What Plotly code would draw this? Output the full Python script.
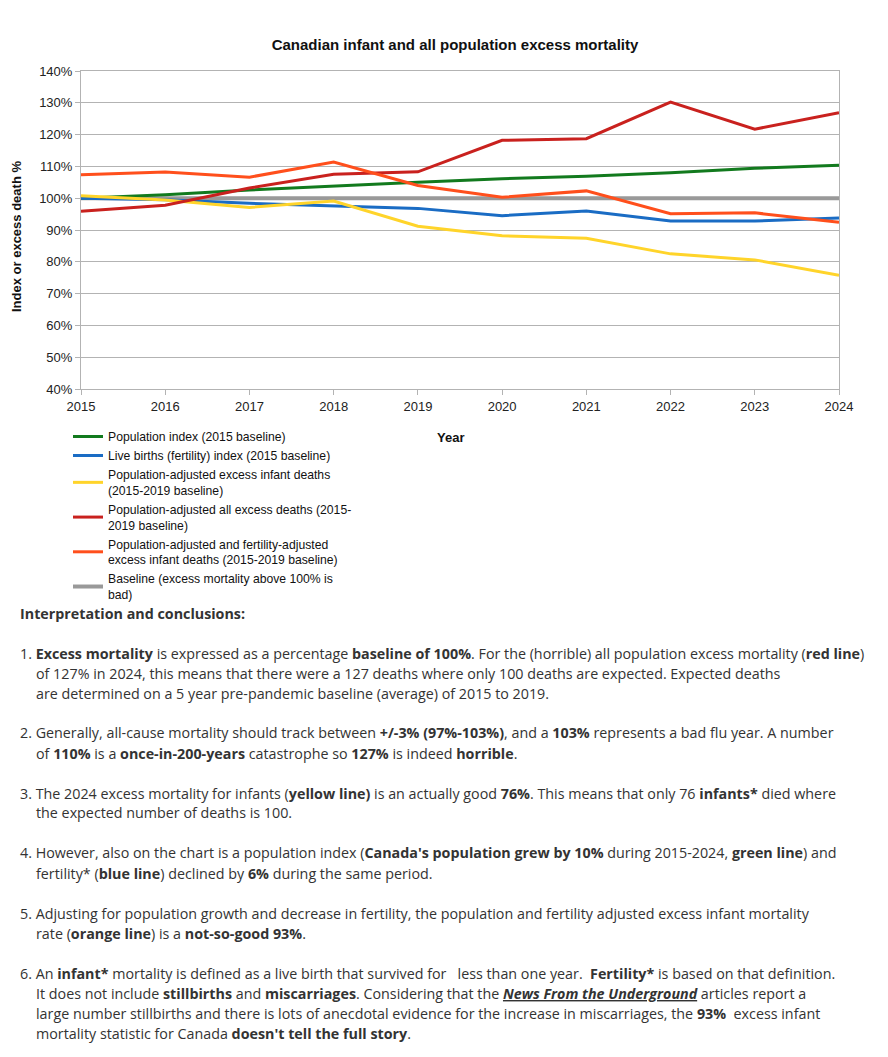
import plotly.graph_objects as go

years = [2015, 2016, 2017, 2018, 2019, 2020, 2021, 2022, 2023, 2024]
population_index = [100.0, 101.1, 102.6, 103.9, 105.0, 106.1, 106.9, 108.0, 109.4, 110.4]
live_births_index = [100.0, 99.5, 98.4, 97.6, 96.8, 94.5, 96.0, 92.8, 92.8, 93.8]
infant_excess = [100.8, 99.4, 97.1, 99.1, 91.2, 88.2, 87.4, 82.5, 80.6, 75.8]
all_excess = [95.9, 97.8, 103.2, 107.5, 108.3, 118.2, 118.7, 130.2, 121.7, 126.9]
infant_fert_excess = [107.4, 108.2, 106.6, 111.4, 104.0, 100.3, 102.3, 95.1, 95.4, 92.4]
baseline = [100, 100, 100, 100, 100, 100, 100, 100, 100, 100]

series_names = [
    "Population index (2015 baseline)",
    "Live births (fertility) index (2015 baseline)",
    "Population-adjusted excess infant deaths<br>(2015-2019 baseline)",
    "Population-adjusted all excess deaths (2015-<br>2019 baseline)",
    "Population-adjusted and fertility-adjusted<br>excess infant deaths (2015-2019 baseline)",
    "Baseline (excess mortality above 100% is<br>bad)",
]
series_values = [population_index, live_births_index, infant_excess, all_excess, infant_fert_excess, baseline]
series_colors = ["#127a1e", "#1a6cc4", "#ffd42a", "#c9211e", "#ff4f1c", "#999999"]
series_widths = [3, 3, 3, 3, 3, 4]
draw_order = [5, 0, 1, 2, 3, 4]

# page body has an 8px margin; positions below are in page pixels
OFF = 8
W, H = 888 - OFF, 1057 - OFF
L, R, T, B = 81 - OFF, 839 - OFF, 71 - OFF, 389 - OFF


def px(x):
    return (x - OFF - L) / (R - L)


def py(y):
    return (B - (y - OFF)) / (B - T)


fig = go.Figure()
for i in draw_order:
    fig.add_trace(go.Scatter(
        x=years, y=series_values[i], mode="lines", name=series_names[i],
        line=dict(color=series_colors[i], width=series_widths[i]),
        legendrank=i + 1,
    ))

FONT = "Liberation Sans, Arial, sans-serif"
TXT = "Open Sans, Noto Sans, sans-serif"

fig.update_layout(
    width=W, height=H,
    margin=dict(l=L, r=W - R, t=T, b=H - B),
    paper_bgcolor="white", plot_bgcolor="white",
    font=dict(family=FONT, size=12, color="#222"),
    title=dict(text="<b>Canadian infant and all population excess mortality</b>",
               x=(455 - OFF) / W, xanchor="center", y=1 - (45 - OFF) / H, yanchor="middle",
               font=dict(family=FONT, size=15, color="#111")),
    showlegend=True,
    legend=dict(x=px(68), y=py(422), xanchor="left", yanchor="top",
                font=dict(family=FONT, size=12.2, color="#111"),
                bgcolor="rgba(0,0,0,0)", tracegroupgap=0, itemwidth=30),
    xaxis=dict(range=[2015, 2024], tickmode="array", tickvals=years,
               ticktext=[str(y) for y in years], showgrid=False,
               showline=True, linecolor="#b3b3b3", linewidth=1, mirror=True,
               ticks="outside", ticklen=5, tickcolor="#b3b3b3",
               tickfont=dict(family=FONT, size=13, color="#222")),
    yaxis=dict(range=[40, 140], dtick=10, ticksuffix="%", showgrid=True,
               gridcolor="#b3b3b3", gridwidth=1, zeroline=False,
               showline=True, linecolor="#b3b3b3", linewidth=1, mirror=True,
               ticks="outside", ticklen=5, tickcolor="#b3b3b3",
               tickfont=dict(family=FONT, size=13, color="#222")),
)

anns = []
anns.append(dict(text="<b>Index or excess death %</b>", x=px(16), y=py(237),
                 xanchor="center", yanchor="middle",
                 textangle=-90, font=dict(family=FONT, size=13, color="#111")))
anns.append(dict(text="<b>Year</b>", x=px(450), y=py(437), xanchor="center", yanchor="middle",
                 font=dict(family=FONT, size=13, color="#111")))

text_lines = [
    (18, 613, "<b>Interpretation and conclusions:</b>"),
    (18, 653, "1. <b>Excess mortality</b> is expressed as a percentage <b>baseline of 100%</b>. For the (horrible) all population excess mortality (<b>red line</b>)"),
    (34, 673, "of 127% in 2024, this means that there were a 127 deaths where only 100 deaths are expected. Expected deaths"),
    (34, 693, "are determined on a 5 year pre-pandemic baseline (average) of 2015 to 2019."),
    (18, 733, "2. Generally, all-cause mortality should track between <b>+/-3% (97%-103%)</b>, and a <b>103%</b> represents a bad flu year. A number"),
    (34, 753, "of <b>110%</b> is a <b>once-in-200-years</b> catastrophe so <b>127%</b> is indeed <b>horrible</b>."),
    (18, 793, "3. The 2024 excess mortality for infants (<b>yellow line)</b> is an actually good <b>76%</b>. This means that only 76 <b>infants*</b> died where"),
    (34, 813, "the expected number of deaths is 100."),
    (18, 853, "4. However, also on the chart is a population index (<b>Canada's population grew by 10%</b> during 2015-2024, <b>green line</b>) and"),
    (34, 873, "fertility* (<b>blue line</b>) declined by <b>6%</b> during the same period."),
    (18, 913, "5. Adjusting for population growth and decrease in fertility, the population and fertility adjusted excess infant mortality"),
    (34, 933, "rate (<b>orange line</b>) is a <b>not-so-good 93%</b>."),
    (18, 973, "6. An <b>infant*</b> mortality is defined as a live birth that survived for   less than one year.  <b>Fertility*</b> is based on that definition."),
    (34, 993, "It does not include <b>stillbirths</b> and <b>miscarriages</b>. Considering that the <b><i><u>News From the Underground</u></i></b> articles report a"),
    (34, 1013, "large number stillbirths and there is lots of anecdotal evidence for the increase in miscarriages, the <b>93%</b>  excess infant"),
    (34, 1033, "mortality statistic for Canada <b>doesn't tell the full story</b>."),
]
for x0, y0, t in text_lines:
    anns.append(dict(text=t, x=px(x0), y=py(y0), xanchor="left", yanchor="middle",
                     font=dict(family=TXT, size=14.3, color="#333")))

for a in anns:
    a.update(xref="paper", yref="paper", showarrow=False)
fig.update_layout(annotations=anns)

fig.write_html("out.html")
